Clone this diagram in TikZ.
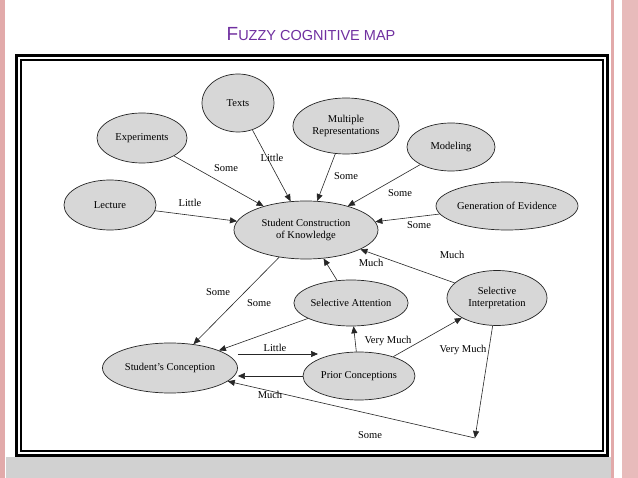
\documentclass[tikz,border=0pt]{standalone}
\usepackage{fontspec}
\setmainfont{Liberation Serif}
\newfontfamily\titlefont{Liberation Sans}
\usetikzlibrary{shapes.geometric,arrows.meta}
\definecolor{ttl}{RGB}{112,48,160}
\definecolor{pinkb}{RGB}{226,170,170}
\definecolor{ellf}{RGB}{215,215,215}
\begin{document}
\begin{tikzpicture}[x=1pt,y=-1pt,
  el/.style={ellipse,draw=black!85,line width=0.7pt,fill=ellf,inner sep=0pt,font=\fontsize{10.5}{11.5}\selectfont,align=center},
  ar/.style={-{Triangle[length=7pt,width=6pt]},line width=0.6pt,black!85},
  lb/.style={font=\fontsize{10.5}{11.5}\selectfont,inner sep=1pt}]
\useasboundingbox (0,0) rectangle (638,478);
\fill[white] (0,0) rectangle (638,478);
\fill[black!18] (6,457) rectangle (612,478);
\fill[pinkb] (0,0) rectangle (5,478);
\fill[pinkb] (611,0) rectangle (614,478);
\fill[pinkb!80] (622,0) rectangle (638,478);
\node[text=ttl,font=\titlefont\fontsize{19}{21}\selectfont] (title) at (311,34) {F\fontsize{14.5}{16}\selectfont UZZY COGNITIVE MAP};
\fill[black] (15,54) rectangle (609,457);
\fill[white] (18,57) rectangle (606,454);
\draw[black,line width=1.5pt] (21,60) rectangle (603,451);
\node[el,minimum width=72pt,minimum height=58pt] (tx) at (238,103) {Texts};
\node[el,minimum width=90pt,minimum height=50pt] (ex) at (142,138) {Experiments};
\node[el,minimum width=106pt,minimum height=56pt] (mr) at (346,126) {Multiple\\Representations};
\node[el,minimum width=88pt,minimum height=48pt] (mo) at (451,147) {Modeling};
\node[el,minimum width=92pt,minimum height=50pt] (le) at (110,205) {Lecture};
\node[el,minimum width=142pt,minimum height=48pt] (ge) at (507,206) {Generation of Evidence};
\node[el,minimum width=144pt,minimum height=58pt] (sck) at (306,230) {Student Construction\\of Knowledge};
\node[el,minimum width=108pt,minimum height=46pt] (sa) at (351,303) {Selective Attention};
\node[el,minimum width=100pt,minimum height=55pt] (si) at (497,298) {Selective\\Interpretation};
\node[el,minimum width=135pt,minimum height=50pt] (stc) at (170,368) {Student's Conception};
\node[el,minimum width=112pt,minimum height=48pt] (pc) at (359,376) {Prior Conceptions};
\coordinate (cr) at (475,438);
\coordinate (pcl) at (318,354);
\draw[ar] (tx) -- (sck);
\draw[ar] (ex) -- (sck);
\draw[ar] (mr) -- (sck);
\draw[ar] (mo) -- (sck);
\draw[ar] (le) -- (sck);
\draw[ar] (ge) -- (sck);
\draw[ar] (si) -- (sck);
\draw[ar] (sa) -- (sck);
\draw[ar] (sck) -- (stc);
\draw[ar] (sa) -- (stc);
\draw[ar] (stc.east |- pcl) -- (pcl);
\draw[ar] (pc.west) -- (stc.east |- 0,376);
\draw[ar] (pc) -- (sa);
\draw[ar] (pc) -- (si);
\draw[ar] (si) -- (cr);
\draw[ar] (cr) -- (stc);
\node[lb] (l1) at (272,158) {Little};
\node[lb] (l2) at (226,168) {Some};
\node[lb] (l3) at (346,176) {Some};
\node[lb] (l4) at (400,193) {Some};
\node[lb] (l5) at (190,203) {Little};
\node[lb] (l6) at (419,225) {Some};
\node[lb] (l7) at (452,255) {Much};
\node[lb] (l8) at (371,263) {Much};
\node[lb] (l9) at (218,292) {Some};
\node[lb] (l10) at (259,303) {Some};
\node[lb] (l11) at (275,348) {Little};
\node[lb] (l12) at (388,341) {Very Much};
\node[lb] (l13) at (463,350) {Very Much};
\node[lb] (l14) at (370,435) {Some};
\node[lb] (l15) at (270,395) {Much};
\end{tikzpicture}
\end{document}
